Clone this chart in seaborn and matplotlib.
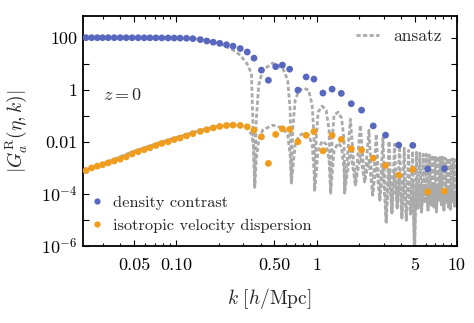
import numpy as np
import pandas as pd
import matplotlib
matplotlib.use("Agg")
import matplotlib.pyplot as plt
import seaborn as sns
from matplotlib.lines import Line2D
from matplotlib.ticker import FixedLocator, FixedFormatter, NullFormatter

# ---------------- data ----------------
k_points = [0.0227, 0.0249, 0.0273, 0.0298, 0.0327, 0.0361, 0.0398, 0.0439, 0.0484,
            0.0535, 0.0590, 0.0648, 0.0715, 0.0788, 0.0874, 0.0965, 0.1064, 0.1182,
            0.1311, 0.1482, 0.1649, 0.1834, 0.2040, 0.2277, 0.2536, 0.2855, 0.3201,
            0.3579, 0.4041, 0.4531, 0.5108, 0.5700, 0.6424, 0.7358, 0.8419, 0.9568,
            1.109, 1.289, 1.499, 1.766, 2.091, 2.533, 3.098, 3.846, 4.846, 6.198, 8.147]

density_contrast = [104, 104, 104, 104, 104, 104, 104, 104, 103.5,
                    103.5, 103, 103, 102.5, 102, 101.5, 101, 100, 99,
                    95.5, 87.6, 77.5, 69.8, 63, 55.7, 49.2, 39.8, 29.3,
                    17, 5.9, 2.4, 8.0, 9.2, 6.4, 1.0, 3.2, 2.65,
                    0.77, 1.09, 0.75, 0.30, 0.17, 0.042, 0.0186, 0.0077, 0.0075, 0.00092, 0.00096]

velocity_dispersion = [8.0e-4, 1.02e-3, 1.19e-3, 1.36e-3, 1.60e-3, 1.89e-3, 2.22e-3, 2.70e-3, 3.52e-3,
                       4.31e-3, 5.15e-3, 6.04e-3, 7.40e-3, 8.91e-3, 0.0103, 0.0125, 0.0143, 0.0173,
                       0.0212, 0.0258, 0.0300, 0.0352, 0.0402, 0.0435, 0.0451, 0.0439, 0.0387,
                       0.0290, 0.0160, 1.52e-3, 0.0198, 0.0325, 0.0308, 0.0103, 0.0183, 0.0254,
                       4.63e-3, 0.0183, 0.0127, 5.52e-3, 4.92e-3, 2.42e-3, 1.27e-3, 5.38e-4, 8.9e-4,
                       1.22e-4, 1.30e-4]

k_ansatz_density = [0.0216, 0.05, 0.1, 0.13, 0.16, 0.2, 0.228, 0.254, 0.286, 0.318, 0.343, 0.362,
                    0.371, 0.3866, 0.4126, 0.486, 0.573, 0.622, 0.6477, 0.6605,
                    0.675, 0.703, 0.745, 0.808, 0.877, 0.929, 0.957, 0.968,
                    0.992, 1.025, 1.094, 1.169, 1.227, 1.258,
                    1.289, 1.332, 1.422, 1.506, 1.569, 1.582,
                    1.74, 1.89, 2.05, 2.20, 2.36, 2.51, 2.66, 2.82, 2.97, 3.13,
                    3.28, 3.44, 3.59, 3.75, 3.90, 4.05, 4.21, 4.36, 4.52, 4.67,
                    4.83, 4.98, 5.14, 5.29, 5.44, 5.60, 5.75, 5.91, 6.06, 6.22,
                    6.37, 6.53, 6.68, 6.84, 6.99, 7.14, 7.30, 7.45, 7.61, 7.76,
                    7.92, 8.07, 8.23, 8.38, 8.54, 8.69, 8.84, 9.00, 9.15, 9.31,
                    9.46, 9.62, 9.77, 9.93, 10.1]
ansatz_density = [104, 104, 102, 97, 84, 64, 46, 34.5, 22, 10.6, 4.4, 1.86e-4,
                  0.070, 1.56, 5.9, 10.9, 7.0, 2.42, 0.17, 2.65e-4,
                  0.029, 0.412, 0.915, 1.19, 1.0, 0.265, 0.0186, 1.43e-4,
                  0.0119, 0.143, 0.243, 0.170, 0.029, 1.09e-4,
                  0.0119, 0.109, 0.143, 0.0838, 0.0119, 1.09e-4,
                  0.0767, 2.22e-4, 0.045, 2.9e-4, 0.029, 9.2e-5, 0.0203, 5.9e-5, 0.0143, 8.4e-6,
                  0.0109, 1.86e-5, 8.4e-3, 2.9e-5, 7.0e-3, 1.19e-5, 5.9e-3, 1.0e-5, 4.9e-3, 1.7e-5,
                  4.5e-3, 5.9e-7, 4.1e-3, 2.9e-5, 3.8e-3, 2.03e-5, 3.45e-3, 4.5e-5, 3.45e-3, 2.43e-5,
                  3.2e-3, 3.8e-5, 3.2e-3, 3.16e-5, 2.9e-3, 2.03e-5, 2.9e-3, 5.9e-5, 2.65e-3, 3.45e-5,
                  2.65e-3, 2.43e-5, 2.43e-3, 4.9e-5, 2.43e-3, 3.16e-5, 2.43e-3, 2.65e-5, 2.22e-3, 5.4e-5,
                  2.22e-3, 3.45e-5, 2.03e-3, 4.1e-5, 2.0e-3]

k_ansatz_velocity = [0.0216, 0.03, 0.05, 0.08, 0.12, 0.16, 0.2, 0.25, 0.29, 0.32, 0.343, 0.355, 0.362,
                     0.371, 0.3866, 0.4126, 0.486, 0.573, 0.622, 0.6477, 0.6605,
                     0.675, 0.703, 0.745, 0.808, 0.877, 0.929, 0.957, 0.968,
                     0.992, 1.025, 1.094, 1.169, 1.227, 1.258,
                     1.289, 1.332, 1.422, 1.506, 1.569, 1.582,
                     1.74, 1.89, 2.05, 2.20, 2.36, 2.51, 2.66, 2.82, 2.97, 3.13,
                     3.28, 3.44, 3.59, 3.75, 3.90, 4.05, 4.21, 4.36, 4.52, 4.67,
                     4.83, 4.98, 5.14, 5.29, 5.44, 5.60, 5.75, 5.91, 6.06, 6.22,
                     6.37, 6.53, 6.68, 6.84, 6.99, 7.14, 7.30, 7.45, 7.61, 7.76,
                     7.92, 8.07, 8.23, 8.38, 8.54, 8.69, 8.84, 9.00, 9.15, 9.31,
                     9.46, 9.62, 9.77, 9.93, 10.1]
ansatz_velocity = [8.75e-4, 1.49e-3, 4.5e-3, 0.01045, 0.0203, 0.0316, 0.0412, 0.0471, 0.0431, 0.0345, 0.0203, 7.67e-3, 1.86e-4,
                   2.03e-3, 0.0119, 0.029, 0.045, 0.0345, 0.0186, 3.16e-3, 2.65e-4,
                   8.4e-4, 7.67e-3, 0.017, 0.0222, 0.0186, 7.67e-3, 8.4e-4, 1.43e-4,
                   5.4e-4, 4.9e-3, 0.0109, 8.4e-3, 2.03e-3, 1.09e-4,
                   5.4e-4, 4.9e-3, 9.15e-3, 6.4e-3, 8.4e-4, 1.09e-4,
                   4.9e-3, 2.22e-4, 3.2e-3, 2.9e-4, 2.03e-3, 9.2e-5, 1.56e-3, 5.9e-5, 1.09e-3, 8.4e-6,
                   8.4e-4, 1.86e-5, 6.4e-4, 2.9e-5, 4.9e-4, 1.19e-5, 4.1e-4, 1.0e-5, 3.45e-4, 1.7e-5,
                   2.9e-4, 5.9e-7, 2.65e-4, 2.9e-5, 2.43e-4, 2.03e-5, 2.22e-4, 4.5e-5, 2.03e-4, 2.43e-5,
                   1.86e-4, 3.8e-5, 1.86e-4, 3.16e-5, 1.7e-4, 2.03e-5, 1.7e-4, 5.9e-5, 1.56e-4, 3.45e-5,
                   1.56e-4, 2.43e-5, 1.43e-4, 4.9e-5, 1.43e-4, 3.16e-5, 1.3e-4, 2.65e-5, 1.3e-4, 5.4e-5,
                   1.19e-4, 3.45e-5, 1.19e-4, 4.1e-5, 1.1e-4]

series_labels = ["density contrast", "isotropic velocity dispersion"]
ansatz_label = "ansatz"
x_ticks = [0.05, 0.1, 0.5, 1, 5, 10]
x_tick_labels = ["0.05", "0.10", "0.50", "1", "5", "10"]
y_ticks = [1e-6, 1e-5, 1e-4, 1e-3, 1e-2, 1e-1, 1, 10, 100]
y_tick_labels = [r"$10^{-6}$", "", r"$10^{-4}$", "", "0.01", "", "1", "", "100"]

BLUE = "#5868be"
ORANGE = "#f09c1c"
GRAY = "#aaaaaa"
DASH = [3.0, 1.7]

# ---------------- style ----------------
sns.set_theme(style="ticks")
plt.rcParams.update({
    "font.family": "serif",
    "font.serif": ["cmr10"],
    "mathtext.fontset": "cm",
    "axes.formatter.use_mathtext": True,
    "axes.unicode_minus": False,
    "lines.scale_dashes": False,
})

fig = plt.figure(figsize=(4.74, 3.23), dpi=100)
ax = fig.add_axes([0.175, 0.238, 0.789, 0.712])

# ansatz curves
sns.lineplot(x=k_ansatz_density, y=ansatz_density, ax=ax, color=GRAY, lw=2.0,
             estimator=None, sort=False, zorder=1)
sns.lineplot(x=k_ansatz_velocity, y=ansatz_velocity, ax=ax, color=GRAY, lw=2.0,
             estimator=None, sort=False, zorder=1)
for ln in ax.get_lines():
    ln.set_dashes(DASH)

# points
df = pd.DataFrame({
    "k": k_points * 2,
    "G": density_contrast + velocity_dispersion,
    "series": [series_labels[0]] * len(k_points) + [series_labels[1]] * len(k_points),
})
sns.scatterplot(data=df, x="k", y="G", hue="series",
                palette={series_labels[0]: BLUE, series_labels[1]: ORANGE},
                s=24, edgecolor="none", linewidth=0, legend=False, ax=ax, zorder=3)

ax.set_xscale("log")
ax.set_yscale("log")
ax.set_xlim(0.0216, 10)
ax.set_ylim(1e-6, 700)

ax.xaxis.set_major_locator(FixedLocator(x_ticks))
ax.xaxis.set_major_formatter(FixedFormatter(x_tick_labels))
minor_x = [0.03, 0.04, 0.06, 0.07, 0.08, 0.09, 0.2, 0.3, 0.4, 0.6, 0.7, 0.8, 0.9,
           2, 3, 4, 6, 7, 8, 9]
ax.xaxis.set_minor_locator(FixedLocator(minor_x))
ax.xaxis.set_minor_formatter(NullFormatter())
ax.yaxis.set_major_locator(FixedLocator(y_ticks))
ax.yaxis.set_major_formatter(FixedFormatter(y_tick_labels))
ax.yaxis.set_minor_locator(FixedLocator([]))

for sp in ax.spines.values():
    sp.set_linewidth(1.3)
    sp.set_color("black")
ax.tick_params(which="both", direction="in", top=True, right=True, colors="black",
               labelsize=13, width=0.8)
ax.tick_params(which="major", length=4.5)
ax.tick_params(which="minor", length=2.5)
ax.tick_params(axis="x", which="major", pad=8)
ax.tick_params(axis="y", which="major", pad=4)

ax.set_xlabel(r"$k\ [h/\mathrm{Mpc}]$", fontsize=14)
ax.set_ylabel(r"$|G_a^{\mathrm{R}}(\eta, k)|$", fontsize=14)
ax.xaxis.set_label_coords(0.497, -0.172)
ax.yaxis.set_label_coords(-0.145, 0.5)

ax.text(0.053, 0.657, r"$z=0$", transform=ax.transAxes, fontsize=13,
        ha="left", va="center")

h1 = [Line2D([], [], marker="o", ls="", color=BLUE, markersize=4.5, markeredgewidth=0),
      Line2D([], [], marker="o", ls="", color=ORANGE, markersize=4.5, markeredgewidth=0)]
leg1 = ax.legend(h1, series_labels, loc="lower left", bbox_to_anchor=(-0.015, 0.008),
                 frameon=False, fontsize=11.8, handlelength=1.0, handletextpad=0.45,
                 labelspacing=0.5, borderaxespad=0.3)
ax.add_artist(leg1)
h2 = [Line2D([], [], color=GRAY, lw=2.0, dashes=DASH)]
ax.legend(h2, [ansatz_label], loc="upper right", bbox_to_anchor=(1.0, 1.015),
          frameon=False, fontsize=12.5, handlelength=1.3, handletextpad=0.8)

fig.savefig("out.png", dpi=100)
